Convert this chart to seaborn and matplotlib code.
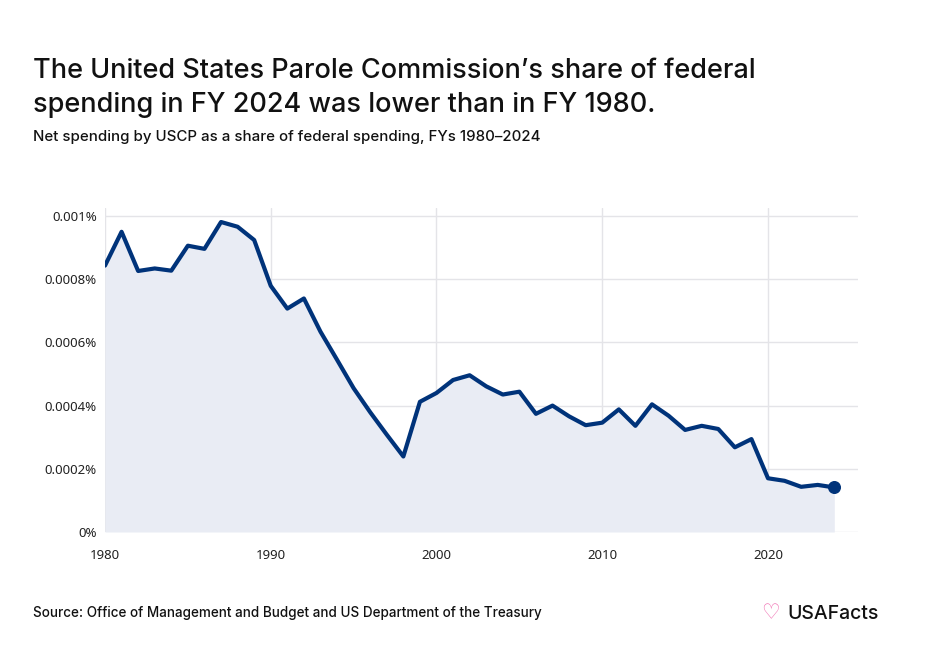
import matplotlib.pyplot as plt
import matplotlib.ticker as mticker
import seaborn as sns
import pandas as pd

# share of federal spending, in percent
years = list(range(1980, 2025))
share = [0.000843, 0.000950, 0.000826, 0.000834, 0.000827, 0.000906, 0.000896, 0.000981, 0.000966, 0.000924,
         0.000779, 0.000707, 0.000739, 0.000634, 0.000545, 0.000455, 0.000379, 0.000308, 0.000239, 0.000412,
         0.000440, 0.000481, 0.000496, 0.000461, 0.000435, 0.000444, 0.000374, 0.000400, 0.000366, 0.000338,
         0.000346, 0.000388, 0.000336, 0.000404, 0.000368, 0.000323, 0.000336, 0.000326, 0.000268, 0.000294,
         0.000170, 0.000162, 0.000143, 0.000149, 0.000141]
y_ticks = [0, 0.0002, 0.0004, 0.0006, 0.0008, 0.001]
y_tick_labels = ['0%', '0.0002%', '0.0004%', '0.0006%', '0.0008%', '0.001%']
x_ticks = [1980, 1990, 2000, 2010, 2020]

df = pd.DataFrame({'year': years, 'share': share})

sns.set_style('white')
plt.rcParams['font.family'] = ['Noto Sans', 'DejaVu Sans']

line_color = '#00337A'
fill_color = '#E9ECF4'
grid_color = '#E4E4E8'

fig = plt.figure(figsize=(9.29, 6.61), dpi=100)
ax = fig.add_axes([105/929, 1-532/661, (858-105)/929, (532-208)/661])

ax.fill_between(df['year'], 0, df['share'], color=fill_color, lw=0, zorder=1)
sns.lineplot(data=df, x='year', y='share', color=line_color, linewidth=3, ax=ax, zorder=3)
ax.scatter([years[-1]], [share[-1]], s=70, color=line_color, zorder=4)

ax.set_xlim(1980, 2025.43)
ax.set_ylim(0, 0.001 * 324 / 316)
ax.set_yticks(y_ticks)
ax.set_yticklabels(y_tick_labels)
ax.set_xticks(x_ticks)
ax.xaxis.set_major_formatter(mticker.FormatStrFormatter('%d'))
ax.grid(True, color=grid_color, lw=1, zorder=0)
ax.set_axisbelow(True)
for s in ax.spines.values():
    s.set_visible(False)
ax.tick_params(axis='both', length=0, labelsize=9.5, labelcolor='#222222')
ax.tick_params(axis='x', pad=12)
ax.tick_params(axis='y', pad=6)
ax.set_xlabel('')
ax.set_ylabel('')

title_font = ['Inter', 'DejaVu Sans']
fig.text(33/929, 1-78/661, "The United States Parole Commission\u2019s share of federal",
         fontsize=19.5, family=title_font, fontweight='medium', color='#111111', va='baseline', ha='left')
fig.text(33/929, 1-112/661, "spending in FY 2024 was lower than in FY 1980.",
         fontsize=19.5, family=title_font, fontweight='medium', color='#111111', va='baseline', ha='left')
fig.text(33/929, 1-141/661, 'Net spending by USCP as a share of federal spending, FYs 1980\u20132024',
         fontsize=10.8, family=title_font, fontweight='medium', color='#111111', va='baseline', ha='left')
fig.text(33/929, 1-617/661, 'Source: Office of Management and Budget and US Department of the Treasury',
         fontsize=9.7, family=title_font, fontweight='medium', color='#111111', va='baseline', ha='left')
fig.text(787/929, 1-619/661, 'USAFacts', fontsize=14, family=title_font, fontweight='medium',
         color='#111111', va='baseline', ha='left')
fig.text(761/929, 1-619/661, '\u2661', fontsize=15, color='#F06BB0', va='baseline', ha='left')

fig.savefig('out.png', dpi=100)
